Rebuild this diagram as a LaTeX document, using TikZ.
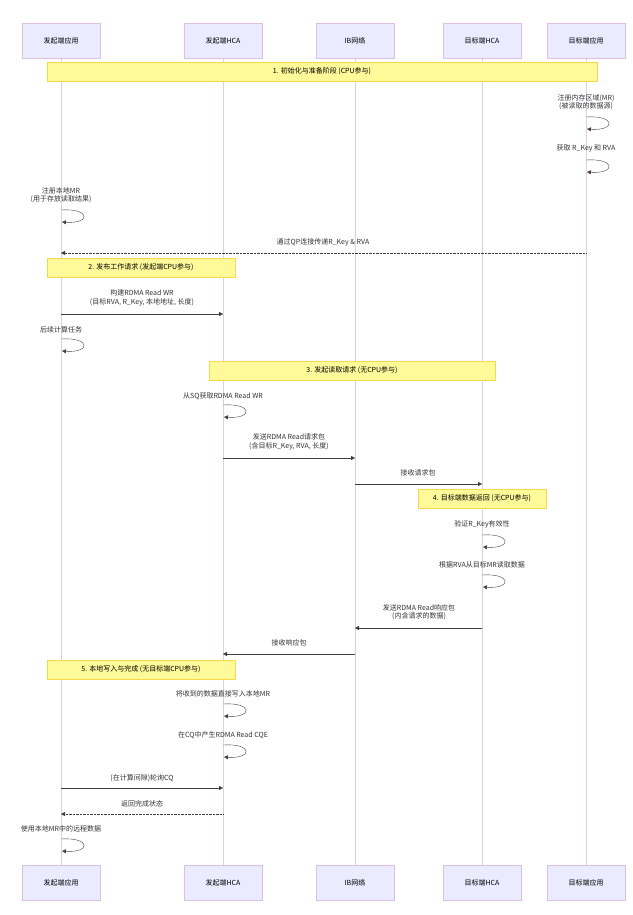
\documentclass[tikz,border=0pt]{standalone}
\usepackage{fontspec}
\setmainfont{Noto Sans CJK SC}
\usetikzlibrary{arrows.meta}
\begin{document}
\begin{tikzpicture}[x=1pt,y=-1pt,font=\fontsize{7}{8.5}\selectfont,
 actor/.style={draw=violet!25,fill=blue!8,minimum width=78pt,minimum height=35pt,inner sep=0pt},
 life/.style={draw=violet!20,line width=0.8pt},
 notebox/.style={draw=yellow!60!orange!70,fill=yellow!40,minimum height=19pt,inner sep=0pt},
 msg/.style={draw=black!75,-{Triangle[length=4pt,width=4pt]}},
 dmsg/.style={msg,densely dotted},
 lbl/.style={align=center,text=black!80,inner sep=1pt}]
\useasboundingbox (0,0) rectangle (632,915);
\foreach \n/\x/\t in {a/61/发起端应用,b/223/发起端HCA,c/355/IB网络,d/482/目标端HCA,e/586/目标端应用}{
 \draw[life] (\x,58) -- (\x,866);
 \node[actor] (\n top) at (\x,41) {\t};
 \node[actor] (\n bot) at (\x,883) {\t};
 \coordinate (\n) at (\x,0);
}
\newcommand{\selfloop}[3]{% x, y, label-y text
 \draw[msg] (#1,#2) .. controls (#1+30,#2-2) and (#1+30,#2+14) .. (#1+1,#2+12);
}
\node[notebox,minimum width=550pt] (n1) at (322,71.5) {1. 初始化与准备阶段 (CPU参与)};
\node[lbl] (t1) at (586,102) {注册内存区域(MR)\\(被读取的数据源)};
\selfloop{586}{117}{}
\node[lbl] (t2) at (586,148) {获取 R\_Key 和 RVA};
\selfloop{586}{160}{}
\node[lbl] (t3) at (61,195) {注册本地MR\\(用于存放读取结果)};
\selfloop{61}{210}{}
\node[lbl] (t4) at (323,242) {通过QP连接传递R\_Key \& RVA};
\draw[dmsg] (e|-0,253) -- (a|-0,253);
\node[notebox,minimum width=188pt] (n2) at (141,267.5) {2. 发布工作请求 (发起端CPU参与)};
\node[lbl] (t5) at (142,298) {构建RDMA Read WR\\(目标RVA, R\_Key, 本地地址, 长度)};
\draw[msg] (a|-0,314) -- (b|-0,314);
\node[lbl] (t6) at (61,330) {后续计算任务};
\selfloop{61}{339}{}
\node[notebox,minimum width=286pt] (n3) at (352,370.5) {3. 发起读取请求 (无CPU参与)};
\node[lbl] (t7) at (223,396) {从SQ获取RDMA Read WR};
\selfloop{223}{405}{}
\node[lbl] (t8) at (289,442) {发送RDMA Read请求包\\(含目标R\_Key, RVA, 长度)};
\draw[msg] (b|-0,458) -- (c|-0,458);
\node[lbl] (t9) at (418,473) {接收请求包};
\draw[msg] (c|-0,484) -- (d|-0,484);
\node[notebox,minimum width=128pt] (n4) at (482,498.5) {4. 目标端数据返回 (无CPU参与)};
\node[lbl] (t10) at (482,524) {验证R\_Key有效性};
\selfloop{482}{535}{}
\node[lbl] (t11) at (482,565) {根据RVA从目标MR读取数据};
\selfloop{482}{575}{}
\node[lbl] (t12) at (419,612) {发送RDMA Read响应包\\(内含请求的数据)};
\draw[msg] (d|-0,628) -- (c|-0,628);
\node[lbl] (t13) at (289,643) {接收响应包};
\draw[msg] (c|-0,654) -- (b|-0,654);
\node[notebox,minimum width=188pt] (n5) at (141,669.5) {5. 本地写入与完成 (无目标端CPU参与)};
\node[lbl] (t14) at (223,694) {将收到的数据直接写入本地MR};
\selfloop{223}{704}{}
\node[lbl] (t15) at (223,735) {在CQ中产生RDMA Read CQE};
\selfloop{223}{745}{}
\node[lbl] (t16) at (142,778) {(在计算间隙)轮询CQ};
\draw[msg] (a|-0,788) -- (b|-0,788);
\node[lbl] (t17) at (142,804) {返回完成状态};
\draw[dmsg] (b|-0,814) -- (a|-0,814);
\node[lbl] (t18) at (61,829) {使用本地MR中的远程数据};
\selfloop{61}{839}{}
\end{tikzpicture}
\end{document}
